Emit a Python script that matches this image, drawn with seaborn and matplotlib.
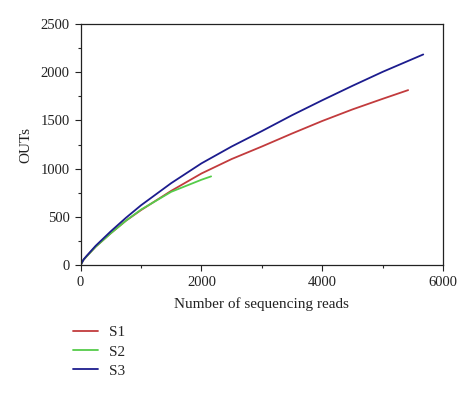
import numpy as np
import pandas as pd
import matplotlib
matplotlib.use("Agg")
import matplotlib.pyplot as plt
from matplotlib.ticker import MultipleLocator
import seaborn as sns

s1_x = [0, 50, 100, 250, 500, 750, 1000, 1500, 2000, 2500, 3000, 3500, 4000, 4500, 5000, 5420]
s1_y = [0, 55, 90, 190, 330, 460, 570, 770, 950, 1100, 1230, 1365, 1495, 1615, 1725, 1815]
s2_x = [0, 50, 100, 250, 500, 750, 1000, 1500, 2000, 2160]
s2_y = [0, 55, 90, 190, 330, 460, 575, 760, 885, 920]
s3_x = [0, 50, 100, 250, 500, 750, 1000, 1500, 2000, 2500, 3000, 3500, 4000, 4500, 5000, 5670]
s3_y = [0, 58, 95, 200, 350, 490, 620, 850, 1055, 1230, 1390, 1555, 1710, 1860, 2005, 2185]
series = ["S1", "S2", "S3"]
colors = ["#c23b3d", "#55cc4a", "#1c1c8e"]

df = pd.concat([
    pd.DataFrame({"x": s1_x, "y": s1_y, "s": "S1"}),
    pd.DataFrame({"x": s2_x, "y": s2_y, "s": "S2"}),
    pd.DataFrame({"x": s3_x, "y": s3_y, "s": "S3"}),
])

sns.set_theme(style="white")
plt.rcParams["font.family"] = ["Liberation Serif", "DejaVu Serif"]

fig = plt.figure(figsize=(4.74, 3.95), dpi=100)
ax = fig.add_axes([0.170, 0.329, 0.765, 0.610])
sns.lineplot(data=df, x="x", y="y", hue="s", palette=dict(zip(series, colors)),
             ax=ax, linewidth=1.3, sort=True, estimator=None)

ax.set_xlim(0, 6000)
ax.set_ylim(0, 2500)
ax.xaxis.set_major_locator(MultipleLocator(2000))
ax.xaxis.set_minor_locator(MultipleLocator(1000))
ax.yaxis.set_major_locator(MultipleLocator(500))
ax.yaxis.set_minor_locator(MultipleLocator(250))
ax.tick_params(which="major", direction="out", length=4, width=0.8, labelsize=10.5,
               bottom=True, left=True, colors="#222222", pad=4)
ax.tick_params(which="minor", direction="out", length=2.5, width=0.8, bottom=True, left=True)
for sp in ax.spines.values():
    sp.set_color("#222222")
    sp.set_linewidth(0.9)
ax.set_xlabel("Number of sequencing reads", fontsize=11, color="#222222", labelpad=6)
ax.set_ylabel("OUTs", fontsize=11, color="#222222", labelpad=6)

handles, labels = ax.get_legend_handles_labels()
ax.legend(handles, labels, loc="upper left", bbox_to_anchor=(0.125, 0.21),
          bbox_transform=fig.transFigure, frameon=False, fontsize=11,
          handlelength=1.65, handletextpad=0.7, labelspacing=0.35)

fig.savefig("out.png", dpi=100)
